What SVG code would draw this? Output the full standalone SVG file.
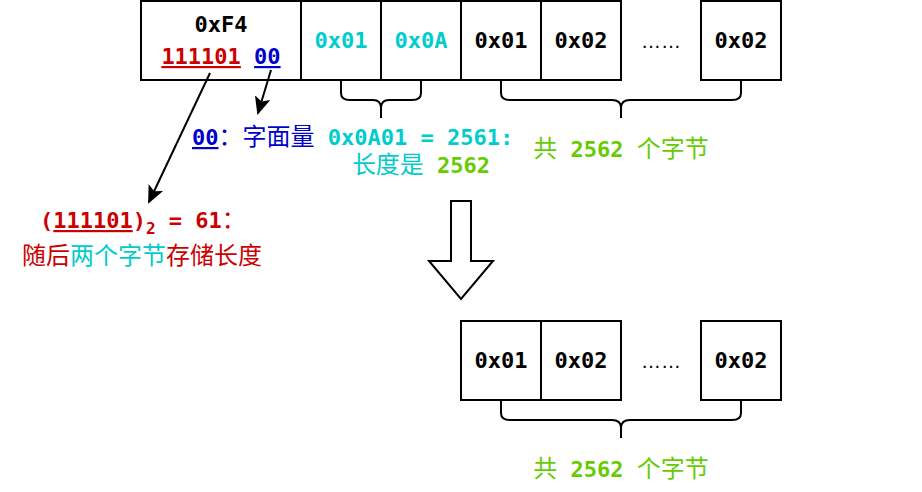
<svg xmlns="http://www.w3.org/2000/svg" width="922" height="492" viewBox="0 0 922 492">
<defs>
<style>
.b{fill:#fff;stroke:#000;stroke-width:2}
.t{font-family:"DejaVu Sans Mono","Liberation Mono","Noto Sans CJK SC",monospace;font-weight:bold;font-size:22px;text-anchor:middle}
.c{font-family:"DejaVu Sans Mono","Noto Sans CJK SC",monospace;font-size:22px}
.k{font-family:"Noto Sans CJK SC",sans-serif;font-size:24px;font-weight:normal}
.br{fill:none;stroke:#000;stroke-width:2}
.d{font-family:"Liberation Sans",sans-serif;font-size:20px;text-anchor:middle}
</style>
<marker id="ah" markerWidth="18" markerHeight="18" refX="16" refY="8" orient="auto" markerUnits="userSpaceOnUse" viewBox="0 0 18 16"><path d="M0,0 L18,8 L0,16 L4,8 Z" fill="#000"/></marker>
</defs>
<rect width="922" height="492" fill="#fff"/>
<g id="top">
<rect class="b" x="141" y="1" width="160" height="79"/>
<text class="t" x="221" y="32">0xF4</text>
<text class="t" x="221" y="64"><tspan fill="#CC0000" text-decoration="underline">111101</tspan> <tspan fill="#0000CC" text-decoration="underline">00</tspan></text>
<rect class="b" x="301" y="1" width="80" height="79"/><text class="t" x="341" y="48" fill="#00CCCC">0x01</text>
<rect class="b" x="381" y="1" width="80" height="79"/><text class="t" x="421" y="48" fill="#00CCCC">0x0A</text>
<rect class="b" x="461" y="1" width="80" height="79"/><text class="t" x="501" y="48">0x01</text>
<rect class="b" x="541" y="1" width="80" height="79"/><text class="t" x="581" y="48">0x02</text>
<text class="d" x="661" y="48">……</text>
<rect class="b" x="701" y="1" width="80" height="79"/><text class="t" x="741" y="48">0x02</text>
</g>
<g id="bottom">
<rect class="b" x="461" y="321" width="80" height="79"/><text class="t" x="501" y="368">0x01</text>
<rect class="b" x="541" y="321" width="80" height="79"/><text class="t" x="581" y="368">0x02</text>
<text class="d" x="661" y="368">……</text>
<rect class="b" x="701" y="321" width="80" height="79"/><text class="t" x="741" y="368">0x02</text>
</g>
<g id="connectors">
<path class="br" d="M341,81 V93 Q341,100 350,100 H373 Q381,100 381,108 V118 M381,108 Q381,100 389,100 H412 Q421,100 421,93 V81"/>
<path class="br" d="M501,81 V93 Q501,100 510,100 H612 Q621,100 621,108 V118 M621,108 Q621,100 630,100 H732 Q741,100 741,93 V81"/>
<path class="br" d="M501,401 V413 Q501,420 510,420 H612 Q621,420 621,428 V438 M621,428 Q621,420 630,420 H732 Q741,420 741,413 V401"/>
<line x1="210" y1="73" x2="149" y2="202" stroke="#000" stroke-width="2" marker-end="url(#ah)"/>
<line x1="271" y1="70" x2="258" y2="113" stroke="#000" stroke-width="2" marker-end="url(#ah)"/>
<path d="M451,201 H471 V261 H493 L461,299 L429,261 H451 Z" fill="#fff" stroke="#000" stroke-width="2"/>
</g>
<g id="labels">
<text class="c" x="192" y="145"><tspan fill="#0000CC" font-weight="bold" text-decoration="underline">00</tspan><tspan fill="#0000CC" class="k">：字面量</tspan><tspan fill="#00CCCC" font-weight="bold"> 0x0A01 = 2561:</tspan></text>
<text class="c" x="421" y="173" text-anchor="middle"><tspan fill="#00CCCC" class="k">长度是</tspan><tspan fill="#66CC00" font-weight="bold"> 2562</tspan></text>
<text class="c" x="621" y="157" text-anchor="middle" fill="#66CC00"><tspan class="k">共</tspan><tspan font-weight="bold"> 2562 </tspan><tspan class="k">个字节</tspan></text>
<text class="c" x="621" y="477" text-anchor="middle" fill="#66CC00"><tspan class="k">共</tspan><tspan font-weight="bold"> 2562 </tspan><tspan class="k">个字节</tspan></text>
<text class="c" x="40" y="228" fill="#CC0000" font-weight="bold">(<tspan text-decoration="underline">111101</tspan>)<tspan font-size="16" dy="6">2</tspan><tspan dy="-6"> = 61</tspan><tspan class="k">：</tspan></text>
<text class="c k" x="22" y="264"><tspan fill="#CC0000">随后</tspan><tspan fill="#00CCCC">两个字节</tspan><tspan fill="#CC0000">存储长度</tspan></text>
</g>
</svg>
